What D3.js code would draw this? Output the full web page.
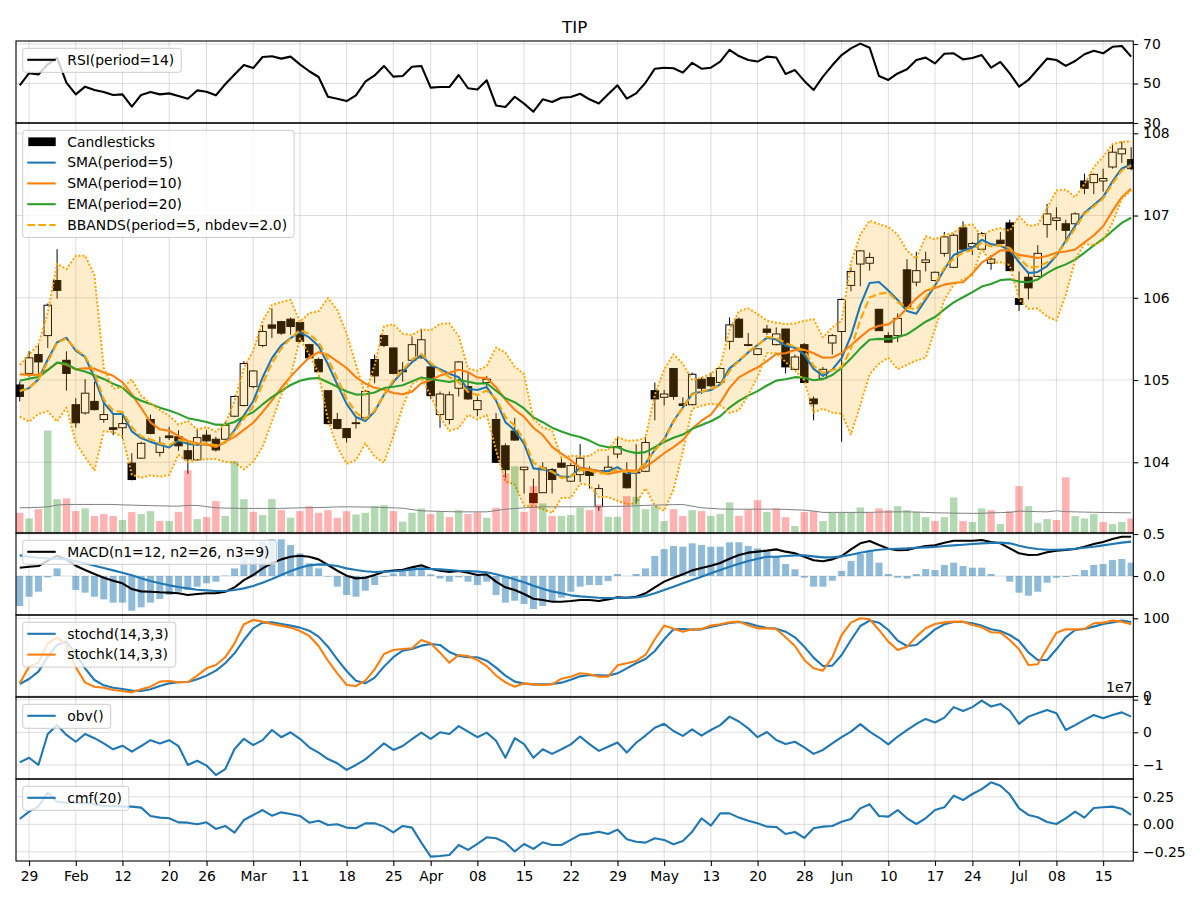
<!DOCTYPE html>
<html>
<head>
<meta charset="utf-8">
<script src="https://cdn.jsdelivr.net/npm/d3@7/dist/d3.min.js"></script>
<style>
  body { margin: 0; background: #fff; }
</style>
</head>
<body>
<div id="chart"></div>
<script>
// TIP daily, 26 Jan - 18 Jul 2024
const firstDay = "2024-01-26";
const holidays = ["2024-02-19", "2024-03-29", "2024-05-27", "2024-06-19", "2024-07-04"];

const open = [104.94,105.08,105.31,105.54,106.21,105.24,104.70,104.60,104.74,104.52,
  104.42,104.42,103.99,104.05,104.52,104.12,104.32,104.31,104.14,104.03,
  104.33,104.28,104.28,104.56,104.69,104.92,105.42,105.67,105.71,105.74,
  105.70,105.43,105.25,104.87,104.52,104.41,104.48,104.54,105.25,105.54,
  105.39,105.12,105.24,105.27,105.16,104.58,104.52,104.90,104.92,104.64,
  104.97,104.52,104.20,104.38,103.91,103.62,103.63,103.91,103.99,103.77,
  103.85,103.89,103.46,103.89,104.10,103.87,103.88,103.89,104.87,104.79,
  105.14,104.71,104.70,105.01,105.03,104.97,105.47,105.74,105.43,105.31,
  105.62,105.43,105.62,105.13,105.43,104.77,105.02,105.45,105.59,106.15,
  106.41,106.42,105.86,105.54,105.54,106.34,106.19,106.43,106.21,106.54,
  106.37,106.85,106.62,106.59,106.42,106.70,106.91,105.99,106.25,106.26,
  106.89,106.94,106.90,106.90,107.42,107.40,107.42,107.59,107.75,107.68];
const high = [104.98,105.35,105.43,105.93,106.59,105.35,104.78,105.01,104.98,104.72,
  104.60,104.61,104.11,104.25,104.58,104.31,104.43,104.39,104.25,104.41,
  104.39,104.31,104.49,104.81,105.23,105.12,105.67,105.87,105.72,105.76,
  105.71,105.44,105.27,104.87,104.60,104.41,104.56,104.88,105.31,105.55,
  105.39,105.22,105.53,105.62,105.16,104.86,104.86,105.23,105.10,104.80,
  105.05,104.60,104.23,104.54,103.94,103.80,104.00,103.93,104.07,103.99,
  104.22,103.95,103.73,104.08,104.31,104.00,104.22,104.31,104.97,104.88,
  105.14,104.79,105.09,105.03,105.09,105.15,105.76,105.76,105.57,105.38,
  105.67,105.64,105.62,105.31,105.45,104.80,105.16,105.56,105.99,106.37,
  106.58,106.55,105.86,105.58,105.81,106.47,106.56,106.56,106.32,106.80,
  106.78,106.93,106.68,106.80,106.52,106.80,106.95,106.32,106.32,106.64,
  107.14,107.10,106.95,107.04,107.51,107.51,107.57,107.86,107.90,107.83];
const low = [104.74,105.04,105.08,105.39,105.99,104.87,104.42,104.58,104.63,104.48,
  104.33,104.29,103.78,104.04,104.34,104.07,104.27,104.14,103.86,104.02,
  104.23,104.13,104.27,104.55,104.68,104.90,105.40,105.51,105.55,105.55,
  105.46,105.26,105.10,104.46,104.40,104.24,104.41,104.54,104.96,105.40,
  105.07,104.98,105.22,105.26,104.77,104.42,104.46,104.80,104.76,104.56,
  104.90,103.99,103.81,104.26,103.62,103.50,103.63,103.62,103.93,103.76,
  103.76,103.68,103.41,103.89,104.05,103.68,103.50,103.88,104.51,104.69,
  104.76,104.68,104.69,104.83,104.91,104.96,105.37,105.51,105.41,105.30,
  105.55,105.42,105.08,105.12,104.97,104.51,105.00,105.31,104.25,106.08,
  106.14,106.33,105.60,105.45,105.46,105.89,106.14,106.32,106.20,106.50,
  106.36,106.59,106.52,106.58,106.34,106.66,106.33,105.84,105.98,106.26,
  106.73,106.82,106.70,106.89,107.26,107.26,107.29,107.57,107.64,107.55];
const close = [104.80,105.27,105.22,105.91,106.09,105.08,104.48,104.84,104.64,104.58,
  104.40,104.47,103.79,104.23,104.35,104.23,104.30,104.20,104.04,104.30,
  104.26,104.15,104.45,104.80,105.20,105.11,105.59,105.63,105.57,105.65,
  105.47,105.27,105.10,104.47,104.41,104.30,104.47,104.86,105.05,105.42,
  105.08,105.10,105.43,105.49,104.81,104.83,104.82,105.22,104.77,104.75,
  105.01,104.00,103.91,104.27,103.94,103.51,103.93,103.79,103.94,103.96,
  104.05,103.84,103.68,103.94,104.19,103.69,103.87,104.24,104.77,104.83,
  104.80,104.69,105.07,104.90,104.93,105.14,105.67,105.52,105.42,105.38,
  105.58,105.56,105.16,105.28,104.97,104.71,105.13,105.54,105.98,106.32,
  106.57,106.49,105.60,105.46,105.75,105.89,106.33,106.46,106.31,106.74,
  106.76,106.59,106.66,106.78,106.47,106.66,106.33,105.92,106.12,106.54,
  107.02,106.97,106.82,107.02,107.33,107.50,107.45,107.77,107.81,107.57];

// volume in millions of shares, and the grey volume average line
const volume = [1.88,1.36,2.22,9.55,3.15,3.22,2.04,2.29,1.58,1.76,
  1.58,1.21,1.95,1.76,2.04,1.11,1.11,1.97,5.84,1.30,
  1.48,2.97,1.58,6.67,3.15,1.97,1.67,3.15,2.13,1.42,
  2.04,2.50,1.88,2.13,1.42,2.04,1.73,1.88,2.50,2.60,
  2.04,1.05,1.88,2.29,1.76,1.97,1.48,2.13,1.76,1.92,
  1.42,2.35,5.53,6.21,1.97,4.36,2.75,1.60,1.60,1.67,
  2.35,2.13,2.66,1.51,1.51,3.43,3.37,2.22,2.50,1.11,
  2.22,1.58,2.13,2.04,1.60,1.76,2.85,1.60,2.20,3.06,
  1.97,2.29,1.48,0.65,1.95,2.04,1.11,1.88,1.88,1.92,
  2.38,1.88,2.29,2.13,2.50,2.13,1.97,1.48,1.11,1.48,
  3.31,1.11,1.02,2.29,2.13,0.83,2.04,4.36,2.50,0.95,
  1.30,1.21,5.19,1.58,1.36,1.76,1.02,0.83,1.02,1.36];
const volumeAvg = [2.35,2.36,2.39,2.44,2.60,2.66,2.66,2.66,2.66,2.66,
  2.66,2.62,2.60,2.57,2.55,2.53,2.51,2.50,2.57,2.57,
  2.46,2.35,2.32,2.31,2.29,2.29,2.29,2.29,2.29,2.32,
  2.34,2.35,2.37,2.40,2.43,2.44,2.43,2.42,2.41,2.37,
  2.35,2.31,2.18,2.07,2.04,2.01,1.99,1.97,1.97,1.97,
  1.97,2.09,2.22,2.28,2.35,2.39,2.44,2.44,2.44,2.44,
  2.44,2.44,2.46,2.48,2.48,2.50,2.53,2.57,2.60,2.62,
  2.64,2.66,2.50,2.35,2.29,2.24,2.22,2.22,2.22,2.22,
  2.22,2.22,2.20,2.16,2.13,2.04,1.92,1.92,1.92,1.92,
  1.92,1.92,1.95,1.96,1.97,1.97,1.95,1.92,1.88,1.87,
  1.85,1.84,1.83,1.84,1.87,1.90,1.92,2.04,2.01,1.99,
  1.97,2.07,1.99,1.97,1.95,1.93,1.91,1.90,1.89,1.88];

// closes before the window (estimated) so the averages start where the picture does
const closesBefore = [105.35,105.20,105.30,105.25,105.30,105.05,104.70,104.70,105.05];
const ema20Start = 104.99;

const rsi = [49.1,55.2,54.6,59.7,63.0,50.4,44.5,48.4,46.7,45.7,
  44.2,44.5,38.3,44.2,45.7,44.5,45.0,43.7,42.3,46.5,
  45.8,44.0,49.6,54.6,59.4,57.8,63.4,63.8,62.6,63.6,
  59.7,56.2,53.3,43.3,42.3,41.1,44.0,50.9,54.1,58.9,
  53.5,53.8,58.5,58.9,47.9,48.2,48.2,54.3,47.6,47.0,
  51.6,38.9,38.1,43.3,39.8,35.7,42.0,40.6,42.8,43.2,
  44.8,42.0,39.9,44.5,49.1,42.3,45.0,50.4,57.5,58.0,
  57.7,55.5,60.5,57.5,58.0,61.1,67.0,63.9,61.9,61.1,
  63.6,63.2,54.8,56.8,51.3,46.7,53.5,59.2,64.4,67.8,
  70.2,68.1,53.8,51.8,55.1,57.2,61.9,63.1,60.2,65.1,
  65.3,62.2,62.9,64.4,58.0,60.9,55.1,48.4,51.8,57.2,
  62.6,61.9,58.9,61.4,64.8,66.6,65.3,68.6,69.0,63.6];
const macd = [0.099,0.111,0.119,0.183,0.242,0.198,0.123,0.071,0.024,-0.02,
  -0.056,-0.087,-0.155,-0.183,-0.187,-0.194,-0.198,-0.206,-0.226,-0.214,
  -0.206,-0.206,-0.187,-0.135,-0.048,0.012,0.091,0.151,0.198,0.23,
  0.242,0.23,0.198,0.131,0.063,0.004,-0.028,-0.02,0.012,0.052,
  0.065,0.075,0.103,0.127,0.087,0.063,0.048,0.06,0.04,0.012,
  0.02,-0.067,-0.135,-0.167,-0.214,-0.27,-0.286,-0.306,-0.306,-0.298,
  -0.286,-0.286,-0.298,-0.278,-0.254,-0.258,-0.246,-0.206,-0.135,-0.067,
  -0.02,0.02,0.067,0.095,0.123,0.155,0.206,0.25,0.278,0.29,
  0.302,0.317,0.29,0.27,0.23,0.187,0.175,0.198,0.238,0.317,
  0.389,0.417,0.369,0.325,0.306,0.31,0.337,0.357,0.365,0.397,
  0.42,0.42,0.42,0.429,0.405,0.389,0.329,0.27,0.25,0.254,
  0.282,0.30,0.31,0.321,0.349,0.381,0.405,0.44,0.468,0.468];
const macdSignal = [0.246,0.23,0.218,0.21,0.206,0.198,0.175,0.151,0.123,0.095,
  0.067,0.04,0.008,-0.028,-0.06,-0.087,-0.111,-0.131,-0.147,-0.163,
  -0.171,-0.179,-0.179,-0.167,-0.147,-0.119,-0.079,-0.036,0.012,0.06,
  0.099,0.127,0.139,0.135,0.119,0.091,0.071,0.056,0.048,0.052,
  0.056,0.063,0.079,0.087,0.083,0.079,0.071,0.063,0.06,0.052,
  0.044,0.02,-0.008,-0.04,-0.075,-0.115,-0.151,-0.183,-0.206,-0.23,
  -0.242,-0.25,-0.258,-0.262,-0.262,-0.258,-0.254,-0.238,-0.206,-0.167,
  -0.127,-0.087,-0.048,-0.008,0.032,0.071,0.111,0.147,0.179,0.206,
  0.23,0.23,0.238,0.246,0.246,0.234,0.222,0.222,0.234,0.254,
  0.278,0.298,0.313,0.321,0.325,0.329,0.337,0.341,0.345,0.357,
  0.365,0.373,0.381,0.389,0.393,0.397,0.389,0.361,0.337,0.321,
  0.313,0.313,0.317,0.325,0.337,0.349,0.365,0.381,0.397,0.409];
const macdHist = [-0.357,-0.246,-0.187,-0.016,0.091,0.0,-0.167,-0.198,-0.246,-0.278,
  -0.317,-0.317,-0.413,-0.373,-0.317,-0.274,-0.226,-0.187,-0.167,-0.127,
  -0.087,-0.067,0.005,0.091,0.23,0.27,0.409,0.437,0.437,0.369,
  0.27,0.151,0.091,-0.008,-0.127,-0.226,-0.246,-0.175,-0.107,-0.01,
  0.03,0.05,0.07,0.12,0.02,-0.03,-0.067,-0.016,-0.067,-0.107,
  -0.067,-0.226,-0.317,-0.294,-0.333,-0.393,-0.357,-0.306,-0.258,-0.187,
  -0.127,-0.107,-0.107,-0.06,0.024,0.0,0.024,0.091,0.238,0.321,
  0.357,0.349,0.389,0.369,0.349,0.349,0.401,0.401,0.357,0.329,
  0.29,0.23,0.143,0.08,-0.02,-0.127,-0.127,-0.056,0.06,0.18,
  0.262,0.30,0.159,0.024,-0.02,-0.03,0.024,0.083,0.071,0.131,
  0.159,0.119,0.099,0.099,0.024,0.0,-0.067,-0.198,-0.234,-0.187,
  -0.079,-0.02,-0.012,0.012,0.071,0.131,0.143,0.19,0.202,0.159];
const stochK = [16.3,37.8,42.9,67.8,75.5,65.7,36.9,17.2,12.0,10.7,
  7.7,6.4,4.7,8.6,12.0,18.5,19.3,17.6,18.0,26.2,
  35.6,39.9,49.8,67.8,92.3,97.9,95.7,92.7,90.6,88.0,
  83.7,77.3,64.4,45.5,29.2,14.2,12.9,19.7,34.3,54.1,
  59.2,60.5,61.4,72.1,67.8,55.8,42.9,52.8,51.5,46.4,
  38.6,26.2,17.6,12.0,16.3,15.0,14.2,15.0,22.3,24.9,
  29.2,27.9,24.9,24.9,39.5,42.1,45.1,52.8,73.0,90.6,
  86.7,82.8,85.8,86.3,90.6,92.3,94.8,95.7,91.0,87.1,
  87.1,86.3,75.5,64.4,46.4,35.6,32.6,49.8,78.5,94.4,
  100.0,98.7,85.0,70.0,59.2,63.5,76.4,87.1,92.7,94.8,
  95.7,95.7,91.4,88.4,82.0,81.5,72.1,60.1,39.9,40.8,
  61.4,81.5,85.8,85.8,86.3,93.6,94.4,97.0,95.7,92.3];
const stochD = [15.5,21.9,31.3,50.6,65.7,70.0,54.9,35.6,20.6,13.7,
  10.7,9.0,6.9,6.4,8.6,12.9,16.3,17.6,18.0,21.5,
  26.2,32.6,42.1,54.9,72.1,87.1,94.4,94.8,92.7,90.6,
  88.0,84.1,76.4,63.5,47.2,32.2,19.7,16.3,23.6,37.8,
  50.0,58.4,60.5,64.8,67.0,65.7,56.7,51.5,49.8,49.8,
  45.5,36.5,26.2,18.5,15.9,15.0,15.0,15.5,17.2,21.0,
  25.3,27.0,26.6,26.2,29.2,35.6,42.1,47.6,57.9,73.0,
  85.8,86.3,85.4,85.8,88.8,91.4,94.0,95.3,93.6,90.1,
  87.6,86.7,82.8,75.5,63.5,49.4,38.6,39.1,52.8,72.1,
  90.1,97.0,94.4,85.0,71.2,64.4,65.7,75.5,85.8,92.3,
  95.3,95.3,93.6,90.6,85.8,83.7,78.5,70.8,56.2,46.4,
  46.4,60.1,75.5,85.0,86.3,89.3,92.7,94.8,97.0,95.3];
// on-balance volume, millions of shares
const obv = [-9.2,-7.8,-10.0,-0.5,2.2,-0.8,-2.9,-0.5,-1.8,-3.4,
  -5.2,-4.1,-5.9,-4.2,-2.4,-3.4,-2.4,-4.2,-10.0,-8.7,
  -10.2,-13.1,-11.3,-5.1,-2.0,-3.9,-2.4,0.7,-1.5,0.0,
  -2.0,-4.6,-6.2,-8.2,-9.5,-11.5,-10.0,-8.3,-5.9,-3.4,
  -5.4,-4.2,-2.1,-0.1,-2.0,0.0,-0.5,1.9,0.2,-1.5,
  -0.1,-2.6,-7.8,-1.8,-3.6,-7.8,-5.2,-6.6,-5.2,-3.7,
  -1.3,-3.6,-5.7,-4.4,-3.1,-6.2,-3.2,-1.0,1.4,2.6,
  0.4,-1.1,0.9,-1.0,0.7,2.2,4.8,3.3,1.2,-1.5,
  0.1,-2.35,-3.6,-2.9,-4.6,-6.6,-5.4,-3.4,-1.5,0.2,
  2.5,0.2,-1.6,-3.7,-1.3,0.7,2.6,4.1,3.0,4.5,
  7.7,6.5,7.7,9.7,7.9,8.7,6.6,2.6,4.8,5.8,
  6.8,5.8,0.7,2.2,3.8,5.3,4.3,5.3,6.1,4.8];
const cmf = [0.048,0.115,0.161,0.288,0.206,0.197,0.197,0.191,0.185,0.167,
  0.167,0.161,0.161,0.152,0.076,0.061,0.055,0.018,0.015,0.0,
  0.018,-0.042,-0.015,-0.076,0.039,0.085,0.13,0.079,0.109,0.094,
  0.076,0.015,0.033,-0.006,0.0,-0.03,-0.036,0.009,0.009,-0.021,
  -0.073,-0.015,-0.03,-0.167,-0.294,-0.288,-0.279,-0.188,-0.233,-0.179,
  -0.118,-0.127,-0.167,-0.248,-0.179,-0.224,-0.164,-0.188,-0.188,-0.142,
  -0.094,-0.085,-0.067,-0.088,-0.048,-0.136,-0.158,-0.167,-0.127,-0.142,
  -0.182,-0.152,-0.067,0.055,-0.012,0.1,0.1,0.061,0.033,0.009,
  -0.021,-0.024,-0.088,-0.07,-0.124,-0.036,-0.021,-0.015,0.024,0.048,
  0.145,0.182,0.076,0.07,0.13,0.055,0.003,0.055,0.13,0.155,
  0.261,0.221,0.276,0.321,0.382,0.352,0.273,0.145,0.085,0.064,
  0.021,0.003,0.055,0.115,0.061,0.148,0.155,0.161,0.142,0.085];

const xTickDates = ["2024-01-29","2024-02-05","2024-02-12","2024-02-20","2024-02-26","2024-03-04",
  "2024-03-11","2024-03-18","2024-03-25","2024-04-01","2024-04-08","2024-04-15","2024-04-22",
  "2024-04-29","2024-05-06","2024-05-13","2024-05-20","2024-05-28","2024-06-03","2024-06-10",
  "2024-06-17","2024-06-24","2024-07-01","2024-07-08","2024-07-15"];
const xTickLabels = ["29","Feb","12","20","26","Mar","11","18","25","Apr","08","15","22",
  "29","May","13","20","28","Jun","10","17","24","Jul","08","15"];

// ---- trading calendar ----
function tradingDays(start, count) {
  const out = [];
  const d = new Date(start + "T12:00:00Z");
  while (out.length < count) {
    const s = d.toISOString().slice(0, 10);
    const wd = d.getUTCDay();
    if (wd !== 0 && wd !== 6 && !holidays.includes(s)) out.push(s);
    d.setUTCDate(d.getUTCDate() + 1);
  }
  return out;
}
const dates = tradingDays(firstDay, close.length);
const idx = d3.range(close.length);
const xTickIdx = xTickDates.map(s => dates.indexOf(s));

// ---- price overlays, same definitions the chart uses ----
function rolling(values, before, n, fn) {
  const all = before.concat(values);
  return values.map((_, i) => fn(all.slice(i + before.length - n + 1, i + before.length + 1)));
}
const popStd = w => { const m = d3.mean(w); return Math.sqrt(d3.mean(w, v => (v - m) * (v - m))); };
const sma5 = rolling(close, closesBefore, 5, d3.mean);
const sma10 = rolling(close, closesBefore, 10, d3.mean);
const ema20 = [];
close.forEach((c, i) => ema20.push(i === 0 ? ema20Start : ema20[i - 1] + (c - ema20[i - 1]) * 2 / 21));
const typical = idx.map(i => (high[i] + low[i] + close[i]) / 3);
const bbMid = rolling(typical, closesBefore, 5, d3.mean);
const bbSd = rolling(typical, closesBefore, 5, popStd);
const bbUpper = bbMid.map((m, i) => m + 2 * bbSd[i]);
const bbLower = bbMid.map((m, i) => m - 2 * bbSd[i]);
const upDay = idx.map(i => close[i] >= (i ? close[i - 1] : closesBefore[closesBefore.length - 1]));

// ---- layout ----
const left = 16, right = 1133.3;
const fontSize = 13.9, tickLen = 4.9;
const x = d3.scaleLinear().domain([-0.4, 119.23]).range([left, right]);
const step = x(1) - x(0);

const svg = d3.select("#chart").append("svg")
  .attr("width", 1200).attr("height", 900)
  .attr("font-family", "'DejaVu Sans', sans-serif");
svg.append("rect").attr("width", 1200).attr("height", 900).attr("fill", "#fff");

const panels = [];
function makePanel(name, top, bottom, domain, ticks, fmt) {
  const y = d3.scaleLinear().domain(domain).range([bottom, top]);
  svg.append("clipPath").attr("id", "clip-" + name)
    .append("rect").attr("x", left).attr("y", top).attr("width", right - left).attr("height", bottom - top);
  const g = svg.append("g");
  const grid = g.append("g").attr("stroke", "#b0b0b0").attr("stroke-opacity", 0.55).attr("stroke-width", 0.8);
  grid.selectAll("line.v").data(xTickIdx).join("line").attr("class", "v")
    .attr("x1", d => x(d)).attr("x2", d => x(d)).attr("y1", top).attr("y2", bottom);
  grid.selectAll("line.h").data(ticks).join("line").attr("class", "h")
    .attr("x1", left).attr("x2", right).attr("y1", d => y(d)).attr("y2", d => y(d));
  const plot = g.append("g").attr("clip-path", `url(#clip-${name})`);
  const p = { name, top, bottom, y, ticks, fmt, g, plot };
  panels.push(p);
  return p;
}

function drawLine(p, values, color, width, dash, yScale) {
  const ys = yScale || p.y;
  p.plot.append("path").datum(idx)
    .attr("fill", "none").attr("stroke", color).attr("stroke-width", width)
    .attr("stroke-dasharray", dash || null).attr("stroke-linejoin", "round")
    .attr("d", d3.line().x(i => x(i)).y(i => ys(values[i])));
}

function drawLegend(p, items) {
  const g = p.g.append("g");
  const boxTop = p.top + 7.3, rowH = 20.8, firstRow = boxTop + 11.5;
  const box = g.append("rect").attr("x", 22.7).attr("y", boxTop).attr("rx", 2.8)
    .attr("fill", "#fff").attr("fill-opacity", 0.8).attr("stroke", "#cccccc").attr("stroke-width", 1);
  let maxW = 0;
  items.forEach((it, k) => {
    const cy = firstRow + k * rowH;
    if (it.kind === "rect") {
      g.append("rect").attr("x", 28.3).attr("y", cy - 4.4).attr("width", 27.4).attr("height", 8.7).attr("fill", it.color);
    } else {
      g.append("line").attr("x1", 27.3).attr("x2", 55.7).attr("y1", cy).attr("y2", cy)
        .attr("stroke", it.color).attr("stroke-width", 2.1).attr("stroke-dasharray", it.dash || null);
    }
    const t = g.append("text").attr("x", 67.3).attr("y", cy).attr("dy", "0.35em")
      .attr("font-size", fontSize).attr("fill", "#000").text(it.label);
    maxW = Math.max(maxW, t.node().getComputedTextLength());
  });
  box.attr("width", 67.3 + maxW + 7 - 22.7).attr("height", 11.5 + (items.length - 1) * rowH + 12.5);
}

// ---- RSI ----
const rsiP = makePanel("rsi", 41, 123, [30, 71.52], [30, 50, 70], d3.format("d"));
drawLine(rsiP, rsi, "#000", 2.1);
drawLegend(rsiP, [{ label: "RSI(period=14)", color: "#000" }]);

// ---- price ----
const main = makePanel("main", 123, 533, [103.14, 108.125], [104, 105, 106, 107, 108], d3.format("d"));
const bodyW = 0.8 * step;
const candles = main.plot.append("g");
candles.selectAll("line").data(idx).join("line")
  .attr("x1", i => x(i)).attr("x2", i => x(i))
  .attr("y1", i => main.y(high[i])).attr("y2", i => main.y(low[i]))
  .attr("stroke", "#000").attr("stroke-width", 1);
candles.selectAll("rect").data(idx).join("rect")
  .attr("x", i => x(i) - bodyW / 2).attr("width", bodyW)
  .attr("y", i => main.y(Math.max(open[i], close[i])))
  .attr("height", i => Math.max(0.8, Math.abs(main.y(open[i]) - main.y(close[i]))))
  .attr("fill", i => close[i] < open[i] ? "#000" : "#fff")
  .attr("stroke", "#000").attr("stroke-width", 1);

main.plot.append("path").datum(idx)
  .attr("fill", "#ffa500").attr("fill-opacity", 0.2)
  .attr("d", d3.area().x(i => x(i)).y0(i => main.y(bbLower[i])).y1(i => main.y(bbUpper[i])));

drawLine(main, sma5, "#1f77b4", 2.1);
drawLine(main, sma10, "#ff7f0e", 2.1);
drawLine(main, ema20, "#2ca02c", 2.1);
drawLine(main, bbUpper, "#ffa500", 2, "2,1.9");
drawLine(main, bbMid, "#ffa500", 2.1, "7.7,3.3");
drawLine(main, bbLower, "#ffa500", 2, "2,1.9");

// volume on its own scale, bottom quarter of the price panel
const yVol = d3.scaleLinear().domain([0, 4 * d3.max(volume)]).range([main.bottom, main.top]);
const volW = 0.8 * step;
main.plot.append("g").selectAll("rect").data(idx).join("rect")
  .attr("x", i => x(i) - volW / 2).attr("width", volW)
  .attr("y", i => yVol(volume[i])).attr("height", i => yVol(0) - yVol(volume[i]))
  .attr("fill", i => upDay[i] ? "#008000" : "#ff0000").attr("fill-opacity", 0.3);
drawLine(main, volumeAvg, "#808080", 1, null, yVol);

drawLegend(main, [
  { label: "Candlesticks", color: "#000", kind: "rect" },
  { label: "SMA(period=5)", color: "#1f77b4" },
  { label: "SMA(period=10)", color: "#ff7f0e" },
  { label: "EMA(period=20)", color: "#2ca02c" },
  { label: "BBANDS(period=5, nbdev=2.0)", color: "#ffa500", dash: "7.7,3.3" }
]);

// ---- MACD ----
const macdP = makePanel("macd", 533, 615, [-0.464, 0.512], [0, 0.5], d3.format(".1f"));
const histW = 0.75 * step;
macdP.plot.append("g").selectAll("rect").data(idx).join("rect")
  .attr("x", i => x(i) - histW / 2).attr("width", histW)
  .attr("y", i => macdP.y(Math.max(0, macdHist[i])))
  .attr("height", i => Math.abs(macdP.y(macdHist[i]) - macdP.y(0)))
  .attr("fill", "#1f77b4").attr("fill-opacity", 0.5);
drawLine(macdP, macd, "#000", 2.1);
drawLine(macdP, macdSignal, "#1f77b4", 2.1);
drawLegend(macdP, [{ label: "MACD(n1=12, n2=26, n3=9)", color: "#000" }]);

// ---- stochastic ----
const stochP = makePanel("stoch", 615, 697, [-1.29, 104.25], [0, 100], d3.format("d"));
drawLine(stochP, stochD, "#1f77b4", 2.1);
drawLine(stochP, stochK, "#ff7f0e", 2.1);
drawLegend(stochP, [
  { label: "stochd(14,3,3)", color: "#1f77b4" },
  { label: "stochk(14,3,3)", color: "#ff7f0e" }
]);

// ---- OBV ----
const obvP = makePanel("obv", 697, 779, [-14.3, 10.81], [-10, 0, 10], d => d3.format("d")(d / 10));
drawLine(obvP, obv, "#1f77b4", 2.1);
drawLegend(obvP, [{ label: "obv()", color: "#1f77b4" }]);

// ---- CMF ----
const cmfP = makePanel("cmf", 779, 861, [-0.334, 0.4126], [-0.25, 0, 0.25], d3.format(".2f"));
drawLine(cmfP, cmf, "#1f77b4", 2.1);
drawLegend(cmfP, [{ label: "cmf(20)", color: "#1f77b4" }]);

// ---- frames and axes ----
panels.forEach(p => {
  svg.append("rect").attr("x", left).attr("y", p.top).attr("width", right - left).attr("height", p.bottom - p.top)
    .attr("fill", "none").attr("stroke", "#000").attr("stroke-width", 1.1);
  const ax = svg.append("g").attr("transform", `translate(${right},0)`)
    .call(d3.axisRight(p.y).tickValues(p.ticks).tickFormat(p.fmt).tickSize(tickLen).tickPadding(4.9));
  ax.select(".domain").remove();
  ax.attr("font-size", fontSize).attr("font-family", "'DejaVu Sans', sans-serif");
  ax.selectAll("line").attr("stroke", "#000").attr("stroke-width", 1.1);
  ax.selectAll("text").attr("fill", "#000");
});

const xAx = svg.append("g").attr("transform", `translate(0,${cmfP.bottom})`)
  .call(d3.axisBottom(x).tickValues(xTickIdx).tickFormat((d, k) => xTickLabels[k]).tickSize(tickLen).tickPadding(4.9));
xAx.select(".domain").remove();
xAx.attr("font-size", fontSize).attr("font-family", "'DejaVu Sans', sans-serif");
xAx.selectAll("line").attr("stroke", "#000").attr("stroke-width", 1.1);
xAx.selectAll("text").attr("fill", "#000");

svg.append("text").attr("x", right - 1).attr("y", obvP.top - 5).attr("text-anchor", "end")
  .attr("font-size", fontSize).text("1e7");

svg.append("text").attr("x", (left + right) / 2).attr("y", 33).attr("text-anchor", "middle")
  .attr("font-size", 16.7).text("TIP");
</script>
</body>
</html>
